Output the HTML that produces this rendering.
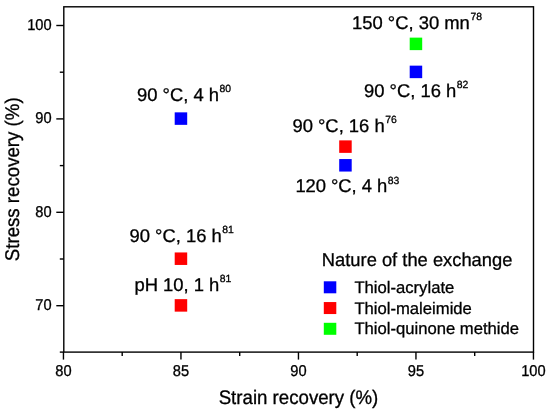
<!DOCTYPE html>
<html><head><meta charset="utf-8"><title>Stress recovery vs strain recovery</title>
<style>
html,body{margin:0;padding:0;background:#fff;}
body{width:550px;height:414px;overflow:hidden;}
svg{display:block;font-family:"Liberation Sans",Arial,sans-serif;fill:#000;}
text{stroke:#000;stroke-width:0.3px;text-rendering:geometricPrecision;}
.tk{font-size:14.67px;}
.lb{font-size:18.67px;}
.an{font-size:18.42px;}
.li{font-size:16.65px;}
.sp{font-size:10.4px;}
</style></head><body>
<svg width="550" height="414" viewBox="0 0 550 414">
<rect x="0" y="0" width="550" height="414" fill="#fff"/>
<rect x="63.8" y="6.8" width="469.7" height="345.30" fill="none" stroke="#000" stroke-width="1.4"/>
<line x1="56.3" x2="63.8" y1="305.70" y2="305.70" stroke="#000" stroke-width="1.4"/>
<text class="tk" transform="translate(51.6,309.90) scale(1,1.07)" text-anchor="end">70</text>
<line x1="56.3" x2="63.8" y1="212.30" y2="212.30" stroke="#000" stroke-width="1.4"/>
<text class="tk" transform="translate(51.6,216.50) scale(1,1.07)" text-anchor="end">80</text>
<line x1="56.3" x2="63.8" y1="118.90" y2="118.90" stroke="#000" stroke-width="1.4"/>
<text class="tk" transform="translate(51.6,123.10) scale(1,1.07)" text-anchor="end">90</text>
<line x1="56.3" x2="63.8" y1="25.50" y2="25.50" stroke="#000" stroke-width="1.4"/>
<text class="tk" transform="translate(51.6,29.70) scale(1,1.07)" text-anchor="end">100</text>
<line x1="59.8" x2="63.8" y1="352.10" y2="352.10" stroke="#000" stroke-width="1.4"/>
<line x1="59.8" x2="63.8" y1="259.00" y2="259.00" stroke="#000" stroke-width="1.4"/>
<line x1="59.8" x2="63.8" y1="165.60" y2="165.60" stroke="#000" stroke-width="1.4"/>
<line x1="59.8" x2="63.8" y1="72.20" y2="72.20" stroke="#000" stroke-width="1.4"/>
<line y1="352.10" y2="359.60" x1="63.45" x2="63.45" stroke="#000" stroke-width="1.4"/>
<text class="tk" transform="translate(63.45,376.2) scale(1,1.07)" text-anchor="middle">80</text>
<line y1="352.10" y2="359.60" x1="180.95" x2="180.95" stroke="#000" stroke-width="1.4"/>
<text class="tk" transform="translate(180.95,376.2) scale(1,1.07)" text-anchor="middle">85</text>
<line y1="352.10" y2="359.60" x1="298.45" x2="298.45" stroke="#000" stroke-width="1.4"/>
<text class="tk" transform="translate(298.45,376.2) scale(1,1.07)" text-anchor="middle">90</text>
<line y1="352.10" y2="359.60" x1="415.95" x2="415.95" stroke="#000" stroke-width="1.4"/>
<text class="tk" transform="translate(415.95,376.2) scale(1,1.07)" text-anchor="middle">95</text>
<line y1="352.10" y2="359.60" x1="533.45" x2="533.45" stroke="#000" stroke-width="1.4"/>
<text class="tk" transform="translate(533.45,376.2) scale(1,1.07)" text-anchor="middle">100</text>
<line y1="352.10" y2="356.10" x1="122.20" x2="122.20" stroke="#000" stroke-width="1.4"/>
<line y1="352.10" y2="356.10" x1="239.70" x2="239.70" stroke="#000" stroke-width="1.4"/>
<line y1="352.10" y2="356.10" x1="357.20" x2="357.20" stroke="#000" stroke-width="1.4"/>
<line y1="352.10" y2="356.10" x1="474.70" x2="474.70" stroke="#000" stroke-width="1.4"/>
<text class="lb" transform="translate(298.5,404.4) scale(1,1.05)" text-anchor="middle">Strain recovery (%)</text>
<text class="lb" transform="translate(19.4,179.3) rotate(-90) scale(1,1.06)" text-anchor="middle">Stress recovery (%)</text>
<rect x="174.70" y="112.35" width="12.5" height="12.5" fill="#0000ff"/>
<rect x="409.70" y="37.63" width="12.5" height="12.5" fill="#00ff00"/>
<rect x="409.70" y="65.65" width="12.5" height="12.5" fill="#0000ff"/>
<rect x="339.20" y="140.37" width="12.5" height="12.5" fill="#ff0000"/>
<rect x="339.20" y="159.05" width="12.5" height="12.5" fill="#0000ff"/>
<rect x="174.70" y="252.45" width="12.5" height="12.5" fill="#ff0000"/>
<rect x="174.70" y="299.15" width="12.5" height="12.5" fill="#ff0000"/>
<text class="an" x="137.0" y="100.9">90 °C, 4 h<tspan class="sp" dx="0.5" dy="-8.8" letter-spacing="0">80</tspan></text>
<text class="an" x="352.0" y="29.0">150 °C, 30 mn<tspan class="sp" dx="0.5" dy="-8.8" letter-spacing="0">78</tspan></text>
<text class="an" x="364.0" y="96.5">90 °C, 16 h<tspan class="sp" dx="0.5" dy="-8.8" letter-spacing="0">82</tspan></text>
<text class="an" x="292.4" y="131.9">90 °C, 16 h<tspan class="sp" dx="0.5" dy="-8.8" letter-spacing="0">76</tspan></text>
<text class="an" x="295.4" y="192.3" letter-spacing="-0.05">120 °C, 4 h<tspan class="sp" dx="0.5" dy="-8.8" letter-spacing="0">83</tspan></text>
<text class="an" x="129.5" y="241.9">90 °C, 16 h<tspan class="sp" dx="0.5" dy="-8.8" letter-spacing="0">81</tspan></text>
<text class="an" x="134.4" y="290.9">pH 10, 1 h<tspan class="sp" dx="0.5" dy="-8.8" letter-spacing="0">81</tspan></text>
<text class="lb" x="321.8" y="266.1" textLength="190.6" lengthAdjust="spacingAndGlyphs">Nature of the exchange</text>
<rect x="323.8" y="281.30" width="12.5" height="12" fill="#0000ff"/>
<text class="li" x="354.4" y="292.90">Thiol-acrylate</text>
<rect x="323.8" y="302.05" width="12.5" height="12" fill="#ff0000"/>
<text class="li" x="354.4" y="313.65">Thiol-maleimide</text>
<rect x="323.8" y="322.80" width="12.5" height="12" fill="#00ff00"/>
<text class="li" x="354.4" y="334.40">Thiol-quinone methide</text>
</svg></body></html>
